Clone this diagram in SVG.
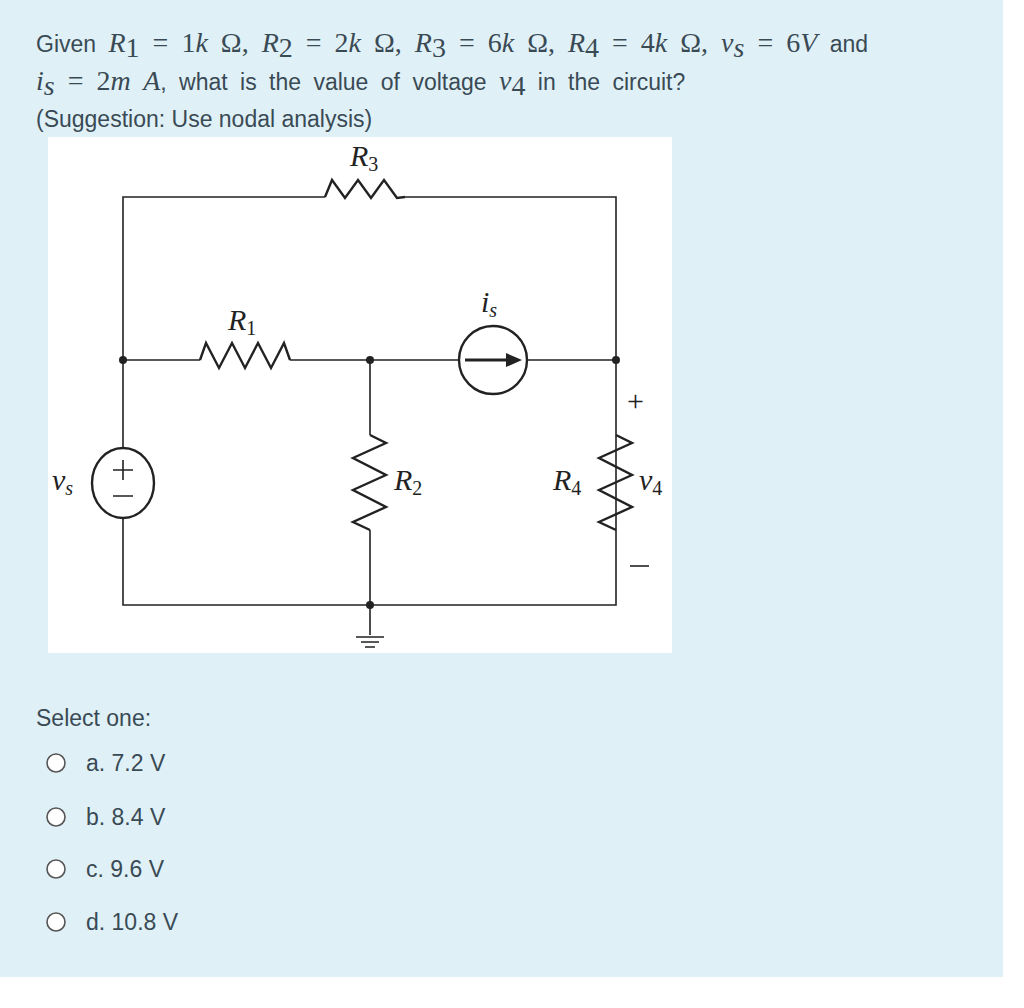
<svg xmlns="http://www.w3.org/2000/svg" width="1024" height="1008" viewBox="0 0 1024 1008">
<style>
.t{font-family:"Liberation Sans",Arial,sans-serif;font-size:23px;fill:#3a4a55}
.m{font-family:"Liberation Serif","DejaVu Serif",serif;font-size:28px;fill:#3a4a55}
.c{font-family:"Liberation Serif","DejaVu Serif",serif;font-size:30px;fill:#222}
.w{fill:none;stroke:#222;stroke-width:1.6}
.z{fill:none;stroke:#222;stroke-width:2.4;stroke-linejoin:miter}
.o{fill:#fff;stroke:#555;stroke-width:1.6}
</style>
<rect x="0" y="0" width="1024" height="1008" fill="#fff"/>
<rect x="0" y="0" width="1003" height="977" fill="#dff1f7"/>
<text class="t" x="36" y="52" word-spacing="6">Given <tspan class="m" font-style="italic">R</tspan><tspan class="m" font-size="18" dy="5">1</tspan><tspan class="m" dy="-5">  =  1</tspan><tspan class="m" font-style="italic">k</tspan><tspan class="m"> Ω, </tspan><tspan class="m" font-style="italic">R</tspan><tspan class="m" font-size="18" dy="5">2</tspan><tspan class="m" dy="-5">  =  2</tspan><tspan class="m" font-style="italic">k</tspan><tspan class="m"> Ω, </tspan><tspan class="m" font-style="italic">R</tspan><tspan class="m" font-size="18" dy="5">3</tspan><tspan class="m" dy="-5">  =  6</tspan><tspan class="m" font-style="italic">k</tspan><tspan class="m"> Ω, </tspan><tspan class="m" font-style="italic">R</tspan><tspan class="m" font-size="18" dy="5">4</tspan><tspan class="m" dy="-5">  =  4</tspan><tspan class="m" font-style="italic">k</tspan><tspan class="m"> Ω, </tspan><tspan class="m" font-style="italic">v</tspan><tspan class="m" font-size="18" font-style="italic" dy="5">s</tspan><tspan class="m" dy="-5">  =  6</tspan><tspan class="m" font-style="italic">V</tspan> and</text>
<text class="t" x="36" y="90" word-spacing="6"><tspan class="m" font-style="italic">i</tspan><tspan class="m" font-size="18" font-style="italic" dy="5">s</tspan><tspan class="m" dy="-5">  =  2</tspan><tspan class="m" font-style="italic">m  A</tspan>, what is the value of voltage <tspan class="m" font-style="italic">v</tspan><tspan class="m" font-size="18" dy="5">4</tspan><tspan dy="-5"> in the circuit?</tspan></text>
<text class="t" x="36" y="127">(Suggestion: Use nodal analysis)</text>
<rect x="48" y="137" width="624" height="516" fill="#fff"/>
<g id="connectors">
<path class="w" d="M123 360V197H325M405 197H616V605H123V518M123 448V360H200M290 360H459M527 360H616M370 360V435M370 530V635M616 360V435M616 530V605"/>
</g>
<g id="R3"><path class="z" d="M325 197L332 180L345 198L358 180L371 198L384 180L397 198L405 197"/><text class="c" x="350" y="166" font-style="italic">R<tspan font-size="20" font-style="normal" dy="5">3</tspan></text></g>
<g id="R1"><path class="z" d="M200 360L206 343L219 368L232 343L245 368L258 343L271 368L284 343L290 360"/><text class="c" x="228" y="330" font-style="italic">R<tspan font-size="20" font-style="normal" dy="5">1</tspan></text></g>
<g id="R2"><path class="z" d="M370 435L386 443L353 458L386 475L353 490L386 507L353 522L370 530"/><text class="c" x="394" y="490" font-style="italic">R<tspan font-size="20" font-style="normal" dy="5">2</tspan></text></g>
<g id="R4"><path class="z" d="M616 435L632 443L599 458L632 475L599 490L632 507L599 522L616 530"/><text class="c" x="553" y="490" font-style="italic">R<tspan font-size="20" font-style="normal" dy="5">4</tspan></text><text class="c" x="639" y="490" font-style="italic">v<tspan font-size="20" font-style="normal" dy="5">4</tspan></text><text class="c" x="627" y="411">+</text><path class="w" d="M630 566H649"/></g>
<g id="vs"><ellipse class="z" cx="123" cy="483" rx="31" ry="35"/><path class="w" d="M113 470H133M123 460V480M113 496H133"/><text class="c" x="52" y="490" font-style="italic">v<tspan font-size="20" dy="5">s</tspan></text></g>
<g id="is"><circle class="z" cx="493" cy="360" r="34"/><path d="M465 360H510" stroke="#222" stroke-width="3"/><path d="M522 360L506 353V367Z" fill="#222"/><text class="c" x="481" y="312" font-style="italic">i<tspan font-size="20" dy="5">s</tspan></text></g>
<g id="nodes" fill="#222"><circle cx="123" cy="360" r="4"/><circle cx="370" cy="360" r="4"/><circle cx="616" cy="360" r="4"/><circle cx="370" cy="605" r="4"/></g>
<g id="ground"><path class="w" d="M356 637H384M361 642H379M365 647H375"/></g>
<text class="t" x="36" y="726">Select one:</text>
<circle class="o" cx="56" cy="763" r="9"/><text class="t" x="86" y="771">a. 7.2 V</text>
<circle class="o" cx="56" cy="817" r="9"/><text class="t" x="86" y="825">b. 8.4 V</text>
<circle class="o" cx="56" cy="869" r="9"/><text class="t" x="86" y="877">c. 9.6 V</text>
<circle class="o" cx="56" cy="922" r="9"/><text class="t" x="86" y="930">d. 10.8 V</text>
</svg>
